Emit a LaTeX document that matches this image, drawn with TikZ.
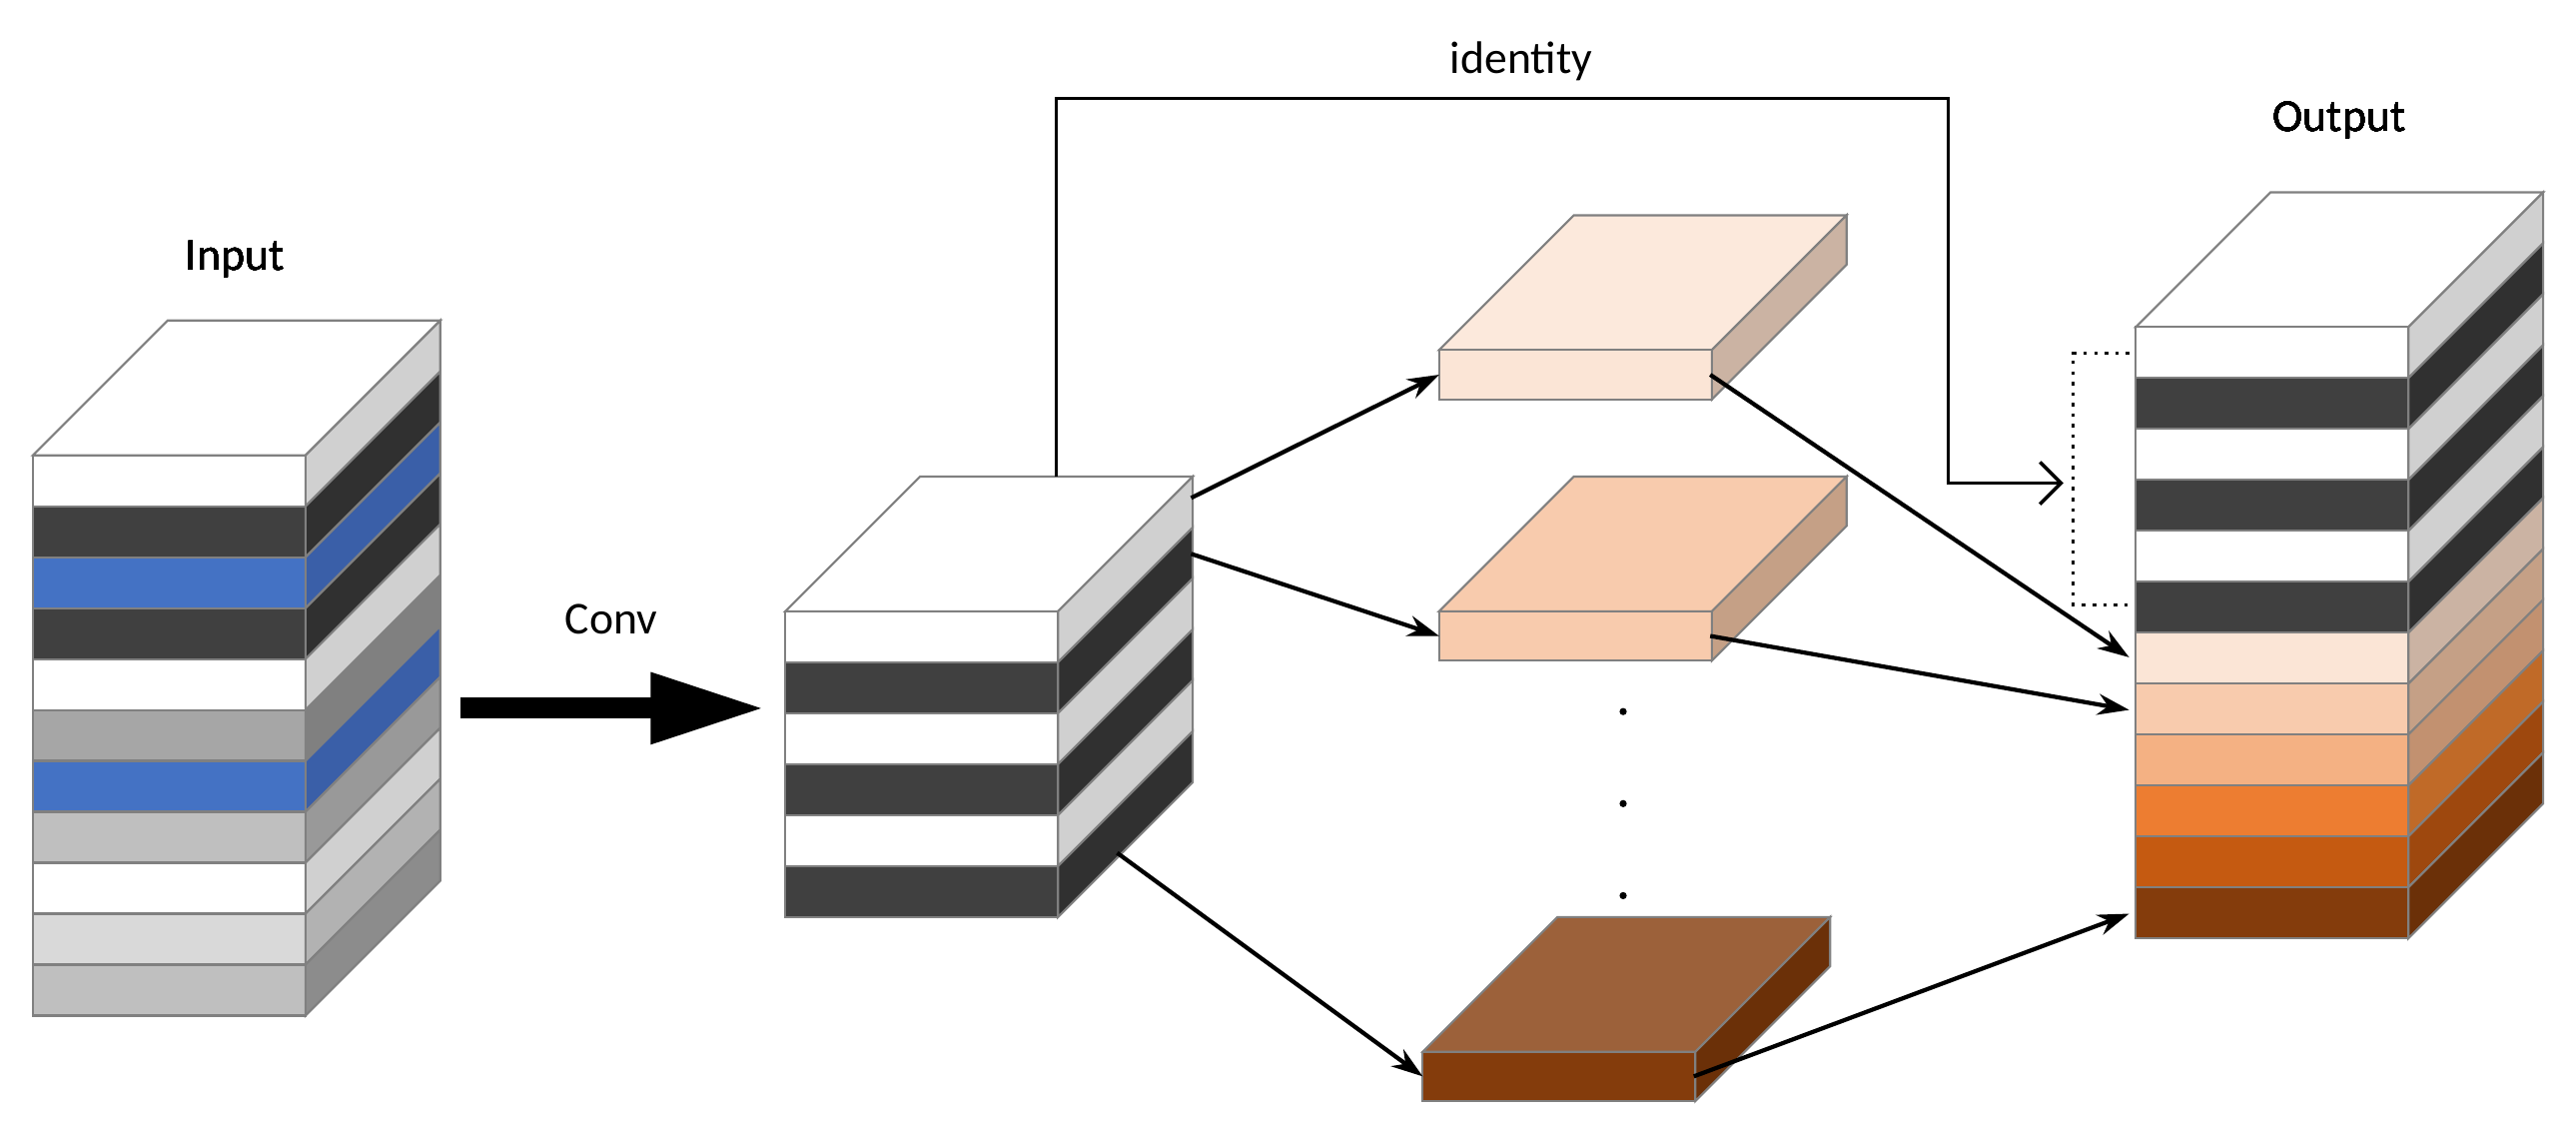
\documentclass[tikz,border=0pt]{standalone}
\usepackage{fontspec}
\setmainfont{Carlito}
\usepackage{tikz}
\usetikzlibrary{calc,positioning,arrows.meta}

\definecolor{dk}{HTML}{404040}
\definecolor{dkS}{HTML}{303030}
\definecolor{wS}{HTML}{D0D0D0}
\definecolor{bl}{HTML}{4472C4}
\definecolor{blS}{HTML}{3A5FA8}
\definecolor{orA}{HTML}{FBE5D6}\definecolor{orAS}{HTML}{CBB3A3}
\definecolor{orB}{HTML}{F8CBAD}\definecolor{orBS}{HTML}{C5A086}
\definecolor{orC}{HTML}{F4B183}\definecolor{orCS}{HTML}{C29170}
\definecolor{orD}{HTML}{ED7D31}\definecolor{orDS}{HTML}{C06A28}
\definecolor{orE}{HTML}{C55A11}\definecolor{orES}{HTML}{9E480E}
\definecolor{orF}{HTML}{843C0C}\definecolor{orFS}{HTML}{6B3008}
\definecolor{orFT}{HTML}{9C613A}

% one layer of a block: x, y (top left of front face), width, height, depth, front, side
\newcommand{\blocklayer}[7]{%
  \filldraw[edge,fill=#6] (#1,#2) rectangle ++(#3,#4);
  \filldraw[edge,fill=#7] (#1+#3,#2) -- ++(#5,-#5) -- ++(0,#4) -- ++(-#5,#5) -- cycle;}
\newcommand{\blocktop}[5]{%
  \filldraw[edge,fill=#5] (#1,#2) -- ++(#4,-#4) -- ++(#3,0) -- ++(-#4,#4) -- cycle;}

\begin{document}
\begin{tikzpicture}[x=0.01645cm,y=-0.01645cm,
  edge/.style={draw=black!50,line width=0.6pt},
  link/.style={-{Stealth[length=9pt,width=6pt]},line width=1.2pt},
  lbl/.style={font=\fontsize{13}{15}\selectfont}]

\useasboundingbox (0,0) rectangle (1568,690);

% Input block
\blocktop{20}{277}{166}{82}{white}
\foreach \i/\f/\s in {0/white/wS, 1/dk/dkS, 2/bl/blS, 3/dk/dkS, 4/white/wS, 5/black!35/black!50,
  6/bl/blS, 7/black!25/black!40, 8/white/wS, 9/black!15/black!30, 10/black!25/black!45}
  \blocklayer{20}{277+31*\i}{166}{31}{82}{\f}{\s}
\node[lbl] (input) at (143,158) {Input};

% Conv arrow
\coordinate (convS) at (280,431);
\coordinate (convE) at (466,431);
\draw[-{Triangle[length=1.15cm,width=0.66cm]},line width=6pt] (convS) -- (convE);
\node[lbl] (conv) at (372,377) {Conv};

% Middle block
\blocktop{478}{372}{166}{82}{white}
\foreach \i/\f/\s in {0/white/wS, 1/dk/dkS, 2/white/wS, 3/dk/dkS, 4/white/wS, 5/dk/dkS}
  \blocklayer{478}{372+31*\i}{166}{31}{82}{\f}{\s}
\coordinate (midA) at (725,303);
\coordinate (midB) at (725,337);
\coordinate (midC) at (680,519);
\coordinate (midT) at (643,290);

% Slabs
\blocktop{876}{213}{166}{82}{orA!85}
\blocklayer{876}{213}{166}{30}{82}{orA}{orAS}
\blocktop{876}{372}{166}{82}{orB}
\blocklayer{876}{372}{166}{30}{82}{orB}{orBS}
\blocktop{866}{640}{166}{82}{orFT}
\blocklayer{866}{640}{166}{30}{82}{orF}{orFS}
\coordinate (slabAin) at (876,228);
\coordinate (slabAout) at (1041,228);
\coordinate (slabBin) at (876,387);
\coordinate (slabBout) at (1041,387);
\coordinate (slabCin) at (866,655);
\coordinate (slabCout) at (1031,655);
\foreach \y in {433,489,545} \fill (988,\y) circle (2.2);

% Output block
\blocktop{1300}{199}{166}{82}{white}
\foreach \i/\f/\s in {0/white/wS, 1/dk/dkS, 2/white/wS, 3/dk/dkS, 4/white/wS, 5/dk/dkS,
  6/orA/orAS, 7/orB/orBS, 8/orC/orCS, 9/orD/orDS, 10/orE/orES, 11/orF/orFS}
  \blocklayer{1300}{199+31*\i}{166}{31}{82}{\f}{\s}
\node[lbl] (output) at (1424,73) {Output};
\coordinate (outA) at (1296,400);
\coordinate (outB) at (1296,432);
\coordinate (outC) at (1296,556);
\coordinate (outId) at (1256,294);

% Identity
\coordinate (idL) at (643,60);
\coordinate (idR) at (1186,60);
\coordinate (idD) at (1186,294);
\draw[-{Straight Barb[length=6pt]},line width=1pt] (midT) -- (idL) -- (idR) -- (idD) -- (outId);
\node[lbl] (identity) at (926,37) {identity};
\draw[dotted,line width=1pt] (1296,215) -- (1262,215) -- (1262,368) -- (1296,368);

% Branch arrows
\draw[link] (midA) -- (slabAin);
\draw[link] (midB) -- (slabBin);
\draw[link] (midC) -- (slabCin);
\draw[link] (slabAout) -- (outA);
\draw[link] (slabBout) -- (outB);
\draw[link] (slabCout) -- (outC);
\end{tikzpicture}
\end{document}
